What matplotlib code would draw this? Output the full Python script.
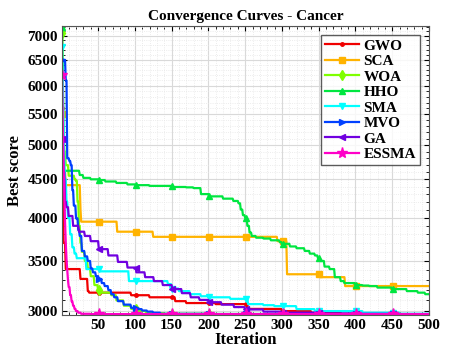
import numpy as np
import matplotlib.pyplot as plt
from matplotlib.ticker import FixedLocator, MultipleLocator, NullFormatter

# convergence curves, stored as (iteration, best score) breakpoints
# each value holds until the next breakpoint
gwo_it = [1, 2, 3, 6, 26, 36, 38, 41, 95, 120, 155, 170, 210, 253, 300, 340, 380, 430]
gwo_val = [5600, 4400, 3700, 3414, 3312, 3190, 3175, 3175, 3150, 3130, 3093, 3075, 3065, 3020, 3000, 2985, 2975, 2972]

sca_it = [1, 2, 4, 6, 26, 27, 76, 125, 294, 307, 352, 386]
sca_val = [5500, 4900, 4600, 4420, 4100, 3950, 3830, 3770, 3720, 3360, 3330, 3240]

woa_it = [1, 2, 3, 4, 6, 10, 18, 20, 22, 24, 26, 28, 32, 36, 40, 45, 50, 54, 68, 75, 85, 95, 105, 115, 125, 140, 200, 300]
woa_val = [7050, 6200, 5300, 4900, 4700, 4550, 4500, 4480, 4200, 3900, 3700, 3600, 3500, 3420, 3340, 3250, 3200, 3175,
           3150, 3100, 3050, 3020, 3000, 2990, 2980, 2975, 2973, 2972]

hho_it = [1, 2, 3, 25, 30, 40, 51, 60, 75, 90, 101, 120, 152, 170, 180, 190, 201, 220, 234, 241, 244, 247, 250,
          253, 256, 259, 265, 275, 285, 297, 300, 311, 320, 331, 338, 345, 349, 352, 358, 365, 372, 380, 385, 400,
          410, 419, 430, 450, 470, 485, 495]
hho_val = [7200, 5400, 4620, 4560, 4520, 4500, 4490, 4470, 4450, 4430, 4420, 4410, 4395, 4390, 4380, 4300, 4270,
           4240, 4210, 4180, 4100, 4030, 4000, 3900, 3820, 3780, 3760, 3750, 3730, 3710, 3690, 3660, 3640, 3610,
           3580, 3560, 3530, 3500, 3440, 3414, 3330, 3290, 3270, 3250, 3245, 3240, 3225, 3210, 3190, 3175, 3160]

sma_it = [1, 2, 3, 4, 5, 7, 9, 12, 15, 18, 21, 34, 53, 92, 145, 150, 160, 175, 190, 200, 230, 254, 275, 290, 320,
          345, 410, 460]
sma_val = [6770, 6000, 5300, 4800, 4500, 4200, 4000, 3800, 3650, 3580, 3530, 3414, 3390, 3290, 3260, 3215, 3190,
           3160, 3140, 3130, 3115, 3065, 3055, 3046, 3018, 3000, 2985, 2975]

mvo_it = [1, 6, 8, 11, 13, 15, 17, 20, 23, 25, 28, 32, 36, 40, 43, 47, 51, 55, 59, 64, 68, 72, 77, 85, 95, 102,
          110, 117, 125, 135, 200, 300]
mvo_val = [6500, 6100, 4800, 4760, 4700, 4350, 4150, 3990, 3850, 3780, 3610, 3550, 3500, 3420, 3380, 3340, 3312,
           3270, 3240, 3200, 3160, 3130, 3093, 3060, 3030, 3018, 3005, 2995, 2985, 2975, 2973, 2972]

ga_it = [1, 3, 5, 7, 10, 16, 24, 32, 40, 51, 64, 77, 90, 102, 114, 126, 138, 151, 164, 176, 188, 201, 218, 235,
         250, 275, 300, 350, 400, 460]
ga_val = [5100, 4600, 4200, 4130, 4020, 3900, 3830, 3780, 3720, 3630, 3560, 3490, 3430, 3380, 3330, 3290, 3250,
          3210, 3170, 3130, 3105, 3083, 3060, 3037, 3015, 2995, 2985, 2978, 2975, 2973]

essma_it = [1, 2, 3, 4, 5, 6, 7, 8, 9, 10, 12, 14, 16, 18, 20, 23, 27, 40]
essma_val = [6200, 5300, 4700, 4300, 3950, 3700, 3520, 3400, 3300, 3230, 3150, 3090, 3050, 3020, 3000, 2985, 2975, 2972]

names = ['GWO', 'SCA', 'WOA', 'HHO', 'SMA', 'MVO', 'GA', 'ESSMA']
colors = ['#f00000', '#ffb300', '#7fff00', '#00e640', '#00ffff', '#0040ff', '#7000e0', '#ff00c8']
markers = ['.', 's', 'd', '^', 'v', '>', '<', '*']
curves = [(gwo_it, gwo_val), (sca_it, sca_val), (woa_it, woa_val), (hho_it, hho_val),
          (sma_it, sma_val), (mvo_it, mvo_val), (ga_it, ga_val), (essma_it, essma_val)]

iters = np.arange(1, 501)


def hold_steps(its, vals):
    # value at each iteration = last breakpoint reached
    idx = np.searchsorted(np.array(its), iters, side='right') - 1
    return np.array(vals, dtype=float)[idx]


plt.rcParams['font.family'] = ['Liberation Serif', 'DejaVu Serif']
plt.rcParams['font.weight'] = 'bold'

fig = plt.figure(figsize=(4.74, 3.55), dpi=100)
ax = fig.add_axes([0.131, 0.113, 0.774, 0.814])

for name, c, m, (its, vals) in zip(names, colors, markers, curves):
    y = hold_steps(its, vals)
    ms = {'.': 5, '*': 8}.get(m, 5)
    ax.plot(iters, y, color=c, lw=1.6, marker=m, markersize=ms, markevery=list(range(0, 500, 50)),
            label=name)

ax.set_yscale('log')
ax.set_xlim(1, 500)
ax.set_ylim(2965, 7215)
ax.yaxis.set_major_locator(FixedLocator([3000, 3500, 4000, 4500, 5000, 5500, 6000, 6500, 7000]))
ax.yaxis.set_major_formatter(plt.FuncFormatter(lambda v, p: f'{v:.0f}'))
ax.yaxis.set_minor_locator(FixedLocator(np.arange(3000, 7300, 100)))
ax.yaxis.set_minor_formatter(NullFormatter())
ax.xaxis.set_major_locator(FixedLocator(np.arange(50, 501, 50)))
ax.xaxis.set_minor_locator(MultipleLocator(10))

ax.grid(True, which='major', color='#d9d9d9', lw=0.8)
ax.grid(True, which='minor', color='#e6e6e6', lw=0.6, ls=':')
ax.tick_params(which='both', direction='in', top=True, right=True, labelsize=11, pad=3)
ax.tick_params(which='minor', length=2)
for s in ax.spines.values():
    s.set_color('#555555')

ax.set_title('Convergence Curves - Cancer', fontsize=11, fontweight='bold', pad=4)
ax.set_xlabel('Iteration', fontsize=12, fontweight='bold', labelpad=0)
ax.set_ylabel('Best score', fontsize=12, fontweight='bold', labelpad=3)

leg = ax.legend(loc='upper right', fontsize=11, frameon=True, fancybox=False, handlelength=2.2,
                borderpad=0.25, labelspacing=0.12, handletextpad=0.3, borderaxespad=0.6)
leg.get_frame().set_edgecolor('#333333')
leg.get_frame().set_linewidth(1.0)

fig.savefig('out.png', dpi=100)
